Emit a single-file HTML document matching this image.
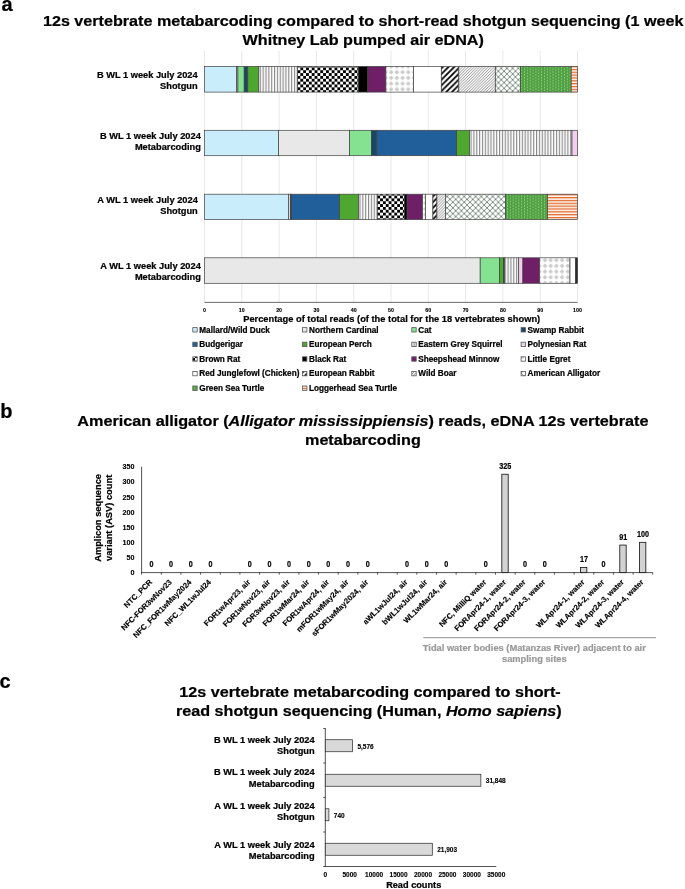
<!DOCTYPE html>
<html lang="en"><head><meta charset="utf-8"><title>Figure</title>
<style>html,body{margin:0;padding:0;background:#fff;}body{width:685px;height:889px;overflow:hidden;}svg{display:block;}text{font-family:"Liberation Sans", Arial, Helvetica, sans-serif;font-weight:bold;fill:#000;stroke:#000;stroke-width:0.22px;}</style>
</head><body>
<svg width="685" height="889" viewBox="0 0 685 889">
<rect x="0" y="0" width="685" height="889" fill="#fff"/>
<defs>
<pattern id="pVert" patternUnits="userSpaceOnUse" width="2.8480" height="2.8480" x="0.6"><rect width="2.8480" height="2.8480" fill="#fff"/><rect x="0" width="1.1500" height="2.8480" fill="#8a8a8a"/></pattern>
<pattern id="pCheck" patternUnits="userSpaceOnUse" width="5.6960" height="5.6960" x="1.3" y="1.9"><rect width="5.6960" height="5.6960" fill="#fff"/><rect width="2.8480" height="2.8480" fill="#000"/><rect x="2.8480" y="2.8480" width="2.8480" height="2.8480" fill="#000"/></pattern>
<pattern id="pDots" patternUnits="userSpaceOnUse" width="5.6960" height="5.6960" x="1" y="1"><rect width="5.6960" height="5.6960" fill="#fff"/><path d="M2.848 0.5 L5.196 2.848 L2.848 5.196 L0.5 2.848 Z" fill="#cbcbcb"/></pattern>
<pattern id="pBold" patternUnits="userSpaceOnUse" width="5.6960" height="5.6960"><rect width="5.6960" height="5.6960" fill="#fff"/><path d="M-1 3.848 L3.848 -1 M1.848 6.696 L6.696 1.848" stroke="#000" stroke-width="1.800"/></pattern>
<pattern id="pThin" patternUnits="userSpaceOnUse" width="2.8480" height="2.8480"><rect width="2.8480" height="2.8480" fill="#fff"/><path d="M-1 3.848 L3.848 -1 M1.848 3.848 L3.848 1.848" stroke="#6a6a6a" stroke-width="0.75"/></pattern>
<pattern id="pCross" patternUnits="userSpaceOnUse" width="5.6960" height="5.6960"><rect width="5.6960" height="5.6960" fill="#fff"/><path d="M0 0 L5.696 5.696 M5.696 0 L0 5.696" stroke="#42604a" stroke-width="0.7"/></pattern>
<pattern id="pTurtle" patternUnits="userSpaceOnUse" width="5.6960" height="2.8480"><rect width="5.6960" height="2.8480" fill="#4fa040"/><rect x="0" y="0" width="0.783" height="1.566" fill="#a4dc98"/><rect x="2.848" y="1.424" width="0.783" height="1.566" fill="#a4dc98"/></pattern>
<pattern id="pOrange" patternUnits="userSpaceOnUse" width="2.8480" height="2.8480" y="0.5"><rect width="2.8480" height="2.8480" fill="#fff8f3"/><rect width="2.8480" height="1.2816" fill="#e06a2c"/></pattern>
</defs>
<text x="1.50" y="11.40" font-size="20.00" text-anchor="start">a</text>
<text transform="translate(363.20 26.30) scale(1.0630 1)" font-size="15.20" text-anchor="middle">12s vertebrate metabarcoding compared to short-read shotgun sequencing (1 week</text>
<text transform="translate(363.20 44.70) scale(1.0630 1)" font-size="15.20" text-anchor="middle">Whitney Lab pumped air eDNA)</text>
<line x1="204.50" y1="50.90" x2="204.50" y2="302.40" stroke="#dedede" stroke-width="0.7"/>
<line x1="241.80" y1="50.90" x2="241.80" y2="302.40" stroke="#dedede" stroke-width="0.7"/>
<line x1="279.10" y1="50.90" x2="279.10" y2="302.40" stroke="#dedede" stroke-width="0.7"/>
<line x1="316.40" y1="50.90" x2="316.40" y2="302.40" stroke="#dedede" stroke-width="0.7"/>
<line x1="353.70" y1="50.90" x2="353.70" y2="302.40" stroke="#dedede" stroke-width="0.7"/>
<line x1="391.00" y1="50.90" x2="391.00" y2="302.40" stroke="#dedede" stroke-width="0.7"/>
<line x1="428.30" y1="50.90" x2="428.30" y2="302.40" stroke="#dedede" stroke-width="0.7"/>
<line x1="465.60" y1="50.90" x2="465.60" y2="302.40" stroke="#dedede" stroke-width="0.7"/>
<line x1="502.90" y1="50.90" x2="502.90" y2="302.40" stroke="#dedede" stroke-width="0.7"/>
<line x1="540.20" y1="50.90" x2="540.20" y2="302.40" stroke="#dedede" stroke-width="0.7"/>
<line x1="577.50" y1="50.90" x2="577.50" y2="302.40" stroke="#dedede" stroke-width="0.7"/>
<rect x="204.50" y="66.40" width="32.10" height="25.70" fill="#CAEDFB" stroke="#404040" stroke-width="0.7"/>
<rect x="236.60" y="66.40" width="1.30" height="25.70" fill="#E8E8E8" stroke="#404040" stroke-width="0.7"/>
<rect x="237.90" y="66.40" width="6.30" height="25.70" fill="#84E291" stroke="#404040" stroke-width="0.7"/>
<rect x="244.20" y="66.40" width="3.60" height="25.70" fill="#1A4669" stroke="#404040" stroke-width="0.7"/>
<rect x="247.80" y="66.40" width="11.00" height="25.70" fill="#4EA72E" stroke="#404040" stroke-width="0.7"/>
<rect x="258.80" y="66.40" width="38.50" height="25.70" fill="url(#pVert)" stroke="#404040" stroke-width="0.7"/>
<rect x="297.30" y="66.40" width="61.00" height="25.70" fill="url(#pCheck)" stroke="#404040" stroke-width="0.7"/>
<rect x="358.30" y="66.40" width="9.50" height="25.70" fill="#000" stroke="#404040" stroke-width="0.7"/>
<rect x="367.80" y="66.40" width="18.10" height="25.70" fill="#6E1F66" stroke="#404040" stroke-width="0.7"/>
<rect x="385.90" y="66.40" width="27.70" height="25.70" fill="url(#pDots)" stroke="#404040" stroke-width="0.7"/>
<rect x="413.60" y="66.40" width="27.70" height="25.70" fill="#fff" stroke="#404040" stroke-width="0.7"/>
<rect x="441.30" y="66.40" width="17.50" height="25.70" fill="url(#pBold)" stroke="#404040" stroke-width="0.7"/>
<rect x="458.80" y="66.40" width="36.50" height="25.70" fill="url(#pThin)" stroke="#404040" stroke-width="0.7"/>
<rect x="495.30" y="66.40" width="25.30" height="25.70" fill="url(#pCross)" stroke="#404040" stroke-width="0.7"/>
<rect x="520.60" y="66.40" width="50.60" height="25.70" fill="url(#pTurtle)" stroke="#404040" stroke-width="0.7"/>
<rect x="571.20" y="66.40" width="6.40" height="25.70" fill="url(#pOrange)" stroke="#404040" stroke-width="0.7"/>
<rect x="204.50" y="130.30" width="74.10" height="25.40" fill="#CAEDFB" stroke="#404040" stroke-width="0.7"/>
<rect x="278.60" y="130.30" width="71.00" height="25.40" fill="#E8E8E8" stroke="#404040" stroke-width="0.7"/>
<rect x="349.60" y="130.30" width="21.90" height="25.40" fill="#84E291" stroke="#404040" stroke-width="0.7"/>
<rect x="371.50" y="130.30" width="5.40" height="25.40" fill="#1A4669" stroke="#404040" stroke-width="0.7"/>
<rect x="376.90" y="130.30" width="79.70" height="25.40" fill="#215F9A" stroke="#404040" stroke-width="0.7"/>
<rect x="456.60" y="130.30" width="13.00" height="25.40" fill="#4EA72E" stroke="#404040" stroke-width="0.7"/>
<rect x="469.60" y="130.30" width="102.40" height="25.40" fill="url(#pVert)" stroke="#404040" stroke-width="0.7"/>
<rect x="572.00" y="130.30" width="5.60" height="25.40" fill="#F2CFEE" stroke="#404040" stroke-width="0.7"/>
<rect x="204.50" y="194.20" width="84.00" height="25.40" fill="#CAEDFB" stroke="#404040" stroke-width="0.7"/>
<rect x="288.50" y="194.20" width="1.80" height="25.40" fill="#E8E8E8" stroke="#404040" stroke-width="0.7"/>
<rect x="290.30" y="194.20" width="1.30" height="25.40" fill="#1A4669" stroke="#404040" stroke-width="0.7"/>
<rect x="291.60" y="194.20" width="47.90" height="25.40" fill="#215F9A" stroke="#404040" stroke-width="0.7"/>
<rect x="339.50" y="194.20" width="19.00" height="25.40" fill="#4EA72E" stroke="#404040" stroke-width="0.7"/>
<rect x="358.50" y="194.20" width="18.80" height="25.40" fill="url(#pVert)" stroke="#404040" stroke-width="0.7"/>
<rect x="377.30" y="194.20" width="27.10" height="25.40" fill="url(#pCheck)" stroke="#404040" stroke-width="0.7"/>
<rect x="404.40" y="194.20" width="2.70" height="25.40" fill="#000" stroke="#404040" stroke-width="0.7"/>
<rect x="407.10" y="194.20" width="15.50" height="25.40" fill="#6E1F66" stroke="#404040" stroke-width="0.7"/>
<rect x="422.60" y="194.20" width="2.90" height="25.40" fill="url(#pDots)" stroke="#404040" stroke-width="0.7"/>
<rect x="425.50" y="194.20" width="7.40" height="25.40" fill="#fff" stroke="#404040" stroke-width="0.7"/>
<rect x="432.90" y="194.20" width="4.00" height="25.40" fill="url(#pBold)" stroke="#404040" stroke-width="0.7"/>
<rect x="436.90" y="194.20" width="8.50" height="25.40" fill="url(#pThin)" stroke="#404040" stroke-width="0.7"/>
<rect x="445.40" y="194.20" width="60.30" height="25.40" fill="url(#pCross)" stroke="#404040" stroke-width="0.7"/>
<rect x="505.70" y="194.20" width="41.80" height="25.40" fill="url(#pTurtle)" stroke="#404040" stroke-width="0.7"/>
<rect x="547.50" y="194.20" width="30.10" height="25.40" fill="url(#pOrange)" stroke="#404040" stroke-width="0.7"/>
<rect x="204.50" y="257.80" width="275.70" height="25.50" fill="#E8E8E8" stroke="#404040" stroke-width="0.7"/>
<rect x="480.20" y="257.80" width="19.20" height="25.50" fill="#84E291" stroke="#404040" stroke-width="0.7"/>
<rect x="499.40" y="257.80" width="4.00" height="25.50" fill="#4EA72E" stroke="#404040" stroke-width="0.7"/>
<rect x="503.40" y="257.80" width="1.20" height="25.50" fill="#1A4669" stroke="#404040" stroke-width="0.7"/>
<rect x="504.60" y="257.80" width="14.10" height="25.50" fill="url(#pVert)" stroke="#404040" stroke-width="0.7"/>
<rect x="518.70" y="257.80" width="4.20" height="25.50" fill="#F2CFEE" stroke="#404040" stroke-width="0.7"/>
<rect x="522.90" y="257.80" width="16.80" height="25.50" fill="#6E1F66" stroke="#404040" stroke-width="0.7"/>
<rect x="539.70" y="257.80" width="30.30" height="25.50" fill="url(#pDots)" stroke="#404040" stroke-width="0.7"/>
<rect x="570.00" y="257.80" width="5.50" height="25.50" fill="#fff" stroke="#404040" stroke-width="0.7"/>
<rect x="575.50" y="257.80" width="2.10" height="25.50" fill="#2b2b2b" stroke="#404040" stroke-width="0.7"/>
<line x1="204.50" y1="302.40" x2="577.50" y2="302.40" stroke="#595959" stroke-width="0.9"/>
<text x="204.50" y="311.90" font-size="5.30" text-anchor="middle" style="stroke-width:0.12px">0</text>
<text x="241.80" y="311.90" font-size="5.30" text-anchor="middle" style="stroke-width:0.12px">10</text>
<text x="279.10" y="311.90" font-size="5.30" text-anchor="middle" style="stroke-width:0.12px">20</text>
<text x="316.40" y="311.90" font-size="5.30" text-anchor="middle" style="stroke-width:0.12px">30</text>
<text x="353.70" y="311.90" font-size="5.30" text-anchor="middle" style="stroke-width:0.12px">40</text>
<text x="391.00" y="311.90" font-size="5.30" text-anchor="middle" style="stroke-width:0.12px">50</text>
<text x="428.30" y="311.90" font-size="5.30" text-anchor="middle" style="stroke-width:0.12px">60</text>
<text x="465.60" y="311.90" font-size="5.30" text-anchor="middle" style="stroke-width:0.12px">70</text>
<text x="502.90" y="311.90" font-size="5.30" text-anchor="middle" style="stroke-width:0.12px">80</text>
<text x="540.20" y="311.90" font-size="5.30" text-anchor="middle" style="stroke-width:0.12px">90</text>
<text x="577.50" y="311.90" font-size="5.30" text-anchor="middle" style="stroke-width:0.12px">100</text>
<text x="391.70" y="322.20" font-size="9.32" text-anchor="middle">Percentage of total reads (of the total for the 18 vertebrates shown)</text>
<text x="197.70" y="78.30" font-size="9.28" text-anchor="end">B WL 1 week July 2024</text>
<text x="197.70" y="89.00" font-size="9.28" text-anchor="end">Shotgun</text>
<text x="200.80" y="139.40" font-size="9.28" text-anchor="end">B WL 1 week July 2024</text>
<text x="200.80" y="150.20" font-size="9.28" text-anchor="end">Metabarcoding</text>
<text x="197.80" y="203.20" font-size="9.28" text-anchor="end">A WL 1 week July 2024</text>
<text x="197.80" y="214.30" font-size="9.28" text-anchor="end">Shotgun</text>
<text x="200.80" y="269.10" font-size="9.28" text-anchor="end">A WL 1 week July 2024</text>
<text x="200.80" y="279.80" font-size="9.28" text-anchor="end">Metabarcoding</text>
<rect x="192.80" y="327.60" width="4.4" height="4.4" fill="#CAEDFB" stroke="#595959" stroke-width="0.8"/>
<text x="199.30" y="332.60" font-size="8.20" text-anchor="start">Mallard/Wild Duck</text>
<rect x="302.50" y="327.60" width="4.4" height="4.4" fill="#E8E8E8" stroke="#595959" stroke-width="0.8"/>
<text x="309.00" y="332.60" font-size="8.20" text-anchor="start">Northern Cardinal</text>
<rect x="411.80" y="327.60" width="4.4" height="4.4" fill="#84E291" stroke="#595959" stroke-width="0.8"/>
<text x="418.30" y="332.60" font-size="8.20" text-anchor="start">Cat</text>
<rect x="521.10" y="327.60" width="4.4" height="4.4" fill="#1A4669" stroke="#595959" stroke-width="0.8"/>
<text x="527.60" y="332.60" font-size="8.20" text-anchor="start">Swamp Rabbit</text>
<rect x="192.80" y="342.20" width="4.4" height="4.4" fill="#215F9A" stroke="#595959" stroke-width="0.8"/>
<text x="199.30" y="347.20" font-size="8.20" text-anchor="start">Budgerigar</text>
<rect x="302.50" y="342.20" width="4.4" height="4.4" fill="#4EA72E" stroke="#595959" stroke-width="0.8"/>
<text x="309.00" y="347.20" font-size="8.20" text-anchor="start">European Perch</text>
<rect x="411.80" y="342.20" width="4.4" height="4.4" fill="url(#pVert)" stroke="#595959" stroke-width="0.8"/>
<text x="418.30" y="347.20" font-size="8.20" text-anchor="start">Eastern Grey Squirrel</text>
<rect x="521.10" y="342.20" width="4.4" height="4.4" fill="#F2CFEE" stroke="#595959" stroke-width="0.8"/>
<text x="527.60" y="347.20" font-size="8.20" text-anchor="start">Polynesian Rat</text>
<rect x="192.80" y="356.80" width="4.4" height="4.4" fill="url(#pCheck)" stroke="#595959" stroke-width="0.8"/>
<text x="199.30" y="361.80" font-size="8.20" text-anchor="start">Brown Rat</text>
<rect x="302.50" y="356.80" width="4.4" height="4.4" fill="#000" stroke="#595959" stroke-width="0.8"/>
<text x="309.00" y="361.80" font-size="8.20" text-anchor="start">Black Rat</text>
<rect x="411.80" y="356.80" width="4.4" height="4.4" fill="#6E1F66" stroke="#595959" stroke-width="0.8"/>
<text x="418.30" y="361.80" font-size="8.20" text-anchor="start">Sheepshead Minnow</text>
<rect x="521.10" y="356.80" width="4.4" height="4.4" fill="url(#pDots)" stroke="#595959" stroke-width="0.8"/>
<text x="527.60" y="361.80" font-size="8.20" text-anchor="start">Little Egret</text>
<rect x="192.80" y="371.40" width="4.4" height="4.4" fill="#fff" stroke="#595959" stroke-width="0.8"/>
<text x="199.30" y="376.40" font-size="8.20" text-anchor="start">Red Junglefowl (Chicken)</text>
<rect x="302.50" y="371.40" width="4.4" height="4.4" fill="url(#pBold)" stroke="#595959" stroke-width="0.8"/>
<text x="309.00" y="376.40" font-size="8.20" text-anchor="start">European Rabbit</text>
<rect x="411.80" y="371.40" width="4.4" height="4.4" fill="url(#pThin)" stroke="#595959" stroke-width="0.8"/>
<text x="418.30" y="376.40" font-size="8.20" text-anchor="start">Wild Boar</text>
<rect x="521.10" y="371.40" width="4.4" height="4.4" fill="url(#pCross)" stroke="#595959" stroke-width="0.8"/>
<text x="527.60" y="376.40" font-size="8.20" text-anchor="start">American Alligator</text>
<rect x="192.80" y="386.00" width="4.4" height="4.4" fill="url(#pTurtle)" stroke="#595959" stroke-width="0.8"/>
<text x="199.30" y="391.00" font-size="8.20" text-anchor="start">Green Sea Turtle</text>
<rect x="302.50" y="386.00" width="4.4" height="4.4" fill="url(#pOrange)" stroke="#595959" stroke-width="0.8"/>
<text x="309.00" y="391.00" font-size="8.20" text-anchor="start">Loggerhead Sea Turtle</text>
<text x="0.20" y="418.40" font-size="20.00" text-anchor="start">b</text>
<text transform="translate(362.90 426.00) scale(1.0662 1)" font-size="15.20" text-anchor="middle">American alligator (<tspan font-style="italic">Alligator mississippiensis</tspan>) reads, eDNA 12s vertebrate</text>
<text transform="translate(362.90 444.60) scale(1.0630 1)" font-size="15.20" text-anchor="middle">metabarcoding</text>
<line x1="141.60" y1="466.70" x2="141.60" y2="573.00" stroke="#262626" stroke-width="0.8"/>
<line x1="141.20" y1="572.60" x2="652.76" y2="572.60" stroke="#262626" stroke-width="0.8"/>
<line x1="141.60" y1="572.60" x2="141.60" y2="574.60" stroke="#262626" stroke-width="0.8"/>
<line x1="161.26" y1="572.60" x2="161.26" y2="574.60" stroke="#262626" stroke-width="0.8"/>
<line x1="180.92" y1="572.60" x2="180.92" y2="574.60" stroke="#262626" stroke-width="0.8"/>
<line x1="200.58" y1="572.60" x2="200.58" y2="574.60" stroke="#262626" stroke-width="0.8"/>
<line x1="220.24" y1="572.60" x2="220.24" y2="574.60" stroke="#262626" stroke-width="0.8"/>
<line x1="239.90" y1="572.60" x2="239.90" y2="574.60" stroke="#262626" stroke-width="0.8"/>
<line x1="259.56" y1="572.60" x2="259.56" y2="574.60" stroke="#262626" stroke-width="0.8"/>
<line x1="279.22" y1="572.60" x2="279.22" y2="574.60" stroke="#262626" stroke-width="0.8"/>
<line x1="298.88" y1="572.60" x2="298.88" y2="574.60" stroke="#262626" stroke-width="0.8"/>
<line x1="318.54" y1="572.60" x2="318.54" y2="574.60" stroke="#262626" stroke-width="0.8"/>
<line x1="338.20" y1="572.60" x2="338.20" y2="574.60" stroke="#262626" stroke-width="0.8"/>
<line x1="357.86" y1="572.60" x2="357.86" y2="574.60" stroke="#262626" stroke-width="0.8"/>
<line x1="377.52" y1="572.60" x2="377.52" y2="574.60" stroke="#262626" stroke-width="0.8"/>
<line x1="397.18" y1="572.60" x2="397.18" y2="574.60" stroke="#262626" stroke-width="0.8"/>
<line x1="416.84" y1="572.60" x2="416.84" y2="574.60" stroke="#262626" stroke-width="0.8"/>
<line x1="436.50" y1="572.60" x2="436.50" y2="574.60" stroke="#262626" stroke-width="0.8"/>
<line x1="456.16" y1="572.60" x2="456.16" y2="574.60" stroke="#262626" stroke-width="0.8"/>
<line x1="475.82" y1="572.60" x2="475.82" y2="574.60" stroke="#262626" stroke-width="0.8"/>
<line x1="495.48" y1="572.60" x2="495.48" y2="574.60" stroke="#262626" stroke-width="0.8"/>
<line x1="515.14" y1="572.60" x2="515.14" y2="574.60" stroke="#262626" stroke-width="0.8"/>
<line x1="534.80" y1="572.60" x2="534.80" y2="574.60" stroke="#262626" stroke-width="0.8"/>
<line x1="554.46" y1="572.60" x2="554.46" y2="574.60" stroke="#262626" stroke-width="0.8"/>
<line x1="574.12" y1="572.60" x2="574.12" y2="574.60" stroke="#262626" stroke-width="0.8"/>
<line x1="593.78" y1="572.60" x2="593.78" y2="574.60" stroke="#262626" stroke-width="0.8"/>
<line x1="613.44" y1="572.60" x2="613.44" y2="574.60" stroke="#262626" stroke-width="0.8"/>
<line x1="633.10" y1="572.60" x2="633.10" y2="574.60" stroke="#262626" stroke-width="0.8"/>
<line x1="652.76" y1="572.60" x2="652.76" y2="574.60" stroke="#262626" stroke-width="0.8"/>
<text x="134.60" y="575.20" font-size="7.20" text-anchor="end" style="stroke-width:0.12px">0</text>
<text x="134.60" y="560.07" font-size="7.20" text-anchor="end" style="stroke-width:0.12px">50</text>
<text x="134.60" y="544.94" font-size="7.20" text-anchor="end" style="stroke-width:0.12px">100</text>
<text x="134.60" y="529.81" font-size="7.20" text-anchor="end" style="stroke-width:0.12px">150</text>
<text x="134.60" y="514.69" font-size="7.20" text-anchor="end" style="stroke-width:0.12px">200</text>
<text x="134.60" y="499.56" font-size="7.20" text-anchor="end" style="stroke-width:0.12px">250</text>
<text x="134.60" y="484.43" font-size="7.20" text-anchor="end" style="stroke-width:0.12px">300</text>
<text x="134.60" y="469.30" font-size="7.20" text-anchor="end" style="stroke-width:0.12px">350</text>
<g transform="translate(100.8 517.9) rotate(-90)">
<text x="0.00" y="0.00" font-size="9.30" text-anchor="middle">Amplicon sequence</text>
<text x="0.00" y="11.00" font-size="9.30" text-anchor="middle">variant (ASV) count</text>
</g>
<text transform="translate(151.43 567.10) scale(0.88 1)" font-size="8.2" text-anchor="middle" style="stroke-width:0.2px">0</text>
<text transform="translate(152.63 582.60) rotate(-45)" font-size="7.7" text-anchor="end" style="stroke-width:0.14px">NTC_PCR</text>
<text transform="translate(171.09 567.10) scale(0.88 1)" font-size="8.2" text-anchor="middle" style="stroke-width:0.2px">0</text>
<text transform="translate(172.29 582.60) rotate(-45)" font-size="7.7" text-anchor="end" style="stroke-width:0.14px">NFC-FOR3wNov23</text>
<text transform="translate(190.75 567.10) scale(0.88 1)" font-size="8.2" text-anchor="middle" style="stroke-width:0.2px">0</text>
<text transform="translate(191.95 582.60) rotate(-45)" font-size="7.7" text-anchor="end" style="stroke-width:0.14px">NFC_FOR1wMay2024</text>
<text transform="translate(210.41 567.10) scale(0.88 1)" font-size="8.2" text-anchor="middle" style="stroke-width:0.2px">0</text>
<text transform="translate(211.61 582.60) rotate(-45)" font-size="7.7" text-anchor="end" style="stroke-width:0.14px">NFC_WL1wJul24</text>
<text transform="translate(249.73 567.10) scale(0.88 1)" font-size="8.2" text-anchor="middle" style="stroke-width:0.2px">0</text>
<text transform="translate(250.93 582.60) rotate(-45)" font-size="7.7" text-anchor="end" style="stroke-width:0.14px">FOR1wApr23, air</text>
<text transform="translate(269.39 567.10) scale(0.88 1)" font-size="8.2" text-anchor="middle" style="stroke-width:0.2px">0</text>
<text transform="translate(270.59 582.60) rotate(-45)" font-size="7.7" text-anchor="end" style="stroke-width:0.14px">FOR1wNov23, air</text>
<text transform="translate(289.05 567.10) scale(0.88 1)" font-size="8.2" text-anchor="middle" style="stroke-width:0.2px">0</text>
<text transform="translate(290.25 582.60) rotate(-45)" font-size="7.7" text-anchor="end" style="stroke-width:0.14px">FOR3wNov23, air</text>
<text transform="translate(308.71 567.10) scale(0.88 1)" font-size="8.2" text-anchor="middle" style="stroke-width:0.2px">0</text>
<text transform="translate(309.91 582.60) rotate(-45)" font-size="7.7" text-anchor="end" style="stroke-width:0.14px">FOR1wMar24, air</text>
<text transform="translate(328.37 567.10) scale(0.88 1)" font-size="8.2" text-anchor="middle" style="stroke-width:0.2px">0</text>
<text transform="translate(329.57 582.60) rotate(-45)" font-size="7.7" text-anchor="end" style="stroke-width:0.14px">FOR1wApr24, air</text>
<text transform="translate(348.03 567.10) scale(0.88 1)" font-size="8.2" text-anchor="middle" style="stroke-width:0.2px">0</text>
<text transform="translate(349.23 582.60) rotate(-45)" font-size="7.7" text-anchor="end" style="stroke-width:0.14px">mFOR1wMay24, air</text>
<text transform="translate(367.69 567.10) scale(0.88 1)" font-size="8.2" text-anchor="middle" style="stroke-width:0.2px">0</text>
<text transform="translate(368.89 582.60) rotate(-45)" font-size="7.7" text-anchor="end" style="stroke-width:0.14px">sFOR1wMay2024, air</text>
<text transform="translate(407.01 567.10) scale(0.88 1)" font-size="8.2" text-anchor="middle" style="stroke-width:0.2px">0</text>
<text transform="translate(408.21 582.60) rotate(-45)" font-size="7.7" text-anchor="end" style="stroke-width:0.14px">aWL1wJul24, air</text>
<text transform="translate(426.67 567.10) scale(0.88 1)" font-size="8.2" text-anchor="middle" style="stroke-width:0.2px">0</text>
<text transform="translate(427.87 582.60) rotate(-45)" font-size="7.7" text-anchor="end" style="stroke-width:0.14px">bWL1wJul24, air</text>
<text transform="translate(446.33 567.10) scale(0.88 1)" font-size="8.2" text-anchor="middle" style="stroke-width:0.2px">0</text>
<text transform="translate(447.53 582.60) rotate(-45)" font-size="7.7" text-anchor="end" style="stroke-width:0.14px">WL1wMar24, air</text>
<text transform="translate(485.65 567.10) scale(0.88 1)" font-size="8.2" text-anchor="middle" style="stroke-width:0.2px">0</text>
<text transform="translate(486.85 582.60) rotate(-45)" font-size="7.7" text-anchor="end" style="stroke-width:0.14px">NFC, MilliQ water</text>
<rect x="501.81" y="474.26" width="6.4" height="98.34" fill="#d3d3d3" stroke="#1a1a1a" stroke-width="0.85"/>
<text transform="translate(505.31 468.76) scale(0.88 1)" font-size="8.2" text-anchor="middle" style="stroke-width:0.2px">325</text>
<text transform="translate(506.51 582.60) rotate(-45)" font-size="7.7" text-anchor="end" style="stroke-width:0.14px">FORApr24-1, water</text>
<text transform="translate(524.97 567.10) scale(0.88 1)" font-size="8.2" text-anchor="middle" style="stroke-width:0.2px">0</text>
<text transform="translate(526.17 582.60) rotate(-45)" font-size="7.7" text-anchor="end" style="stroke-width:0.14px">FORApr24-2, water</text>
<text transform="translate(544.63 567.10) scale(0.88 1)" font-size="8.2" text-anchor="middle" style="stroke-width:0.2px">0</text>
<text transform="translate(545.83 582.60) rotate(-45)" font-size="7.7" text-anchor="end" style="stroke-width:0.14px">FORApr24-3, water</text>
<rect x="580.45" y="567.46" width="6.4" height="5.14" fill="#d3d3d3" stroke="#1a1a1a" stroke-width="0.85"/>
<text transform="translate(583.95 561.96) scale(0.88 1)" font-size="8.2" text-anchor="middle" style="stroke-width:0.2px">17</text>
<text transform="translate(585.15 582.60) rotate(-45)" font-size="7.7" text-anchor="end" style="stroke-width:0.14px">WLApr24-1, water</text>
<text transform="translate(603.61 567.10) scale(0.88 1)" font-size="8.2" text-anchor="middle" style="stroke-width:0.2px">0</text>
<text transform="translate(604.81 582.60) rotate(-45)" font-size="7.7" text-anchor="end" style="stroke-width:0.14px">WLApr24-2, water</text>
<rect x="619.77" y="545.07" width="6.4" height="27.53" fill="#d3d3d3" stroke="#1a1a1a" stroke-width="0.85"/>
<text transform="translate(623.27 539.57) scale(0.88 1)" font-size="8.2" text-anchor="middle" style="stroke-width:0.2px">91</text>
<text transform="translate(624.47 582.60) rotate(-45)" font-size="7.7" text-anchor="end" style="stroke-width:0.14px">WLApr24-3, water</text>
<rect x="639.43" y="542.34" width="6.4" height="30.26" fill="#d3d3d3" stroke="#1a1a1a" stroke-width="0.85"/>
<text transform="translate(642.93 536.84) scale(0.88 1)" font-size="8.2" text-anchor="middle" style="stroke-width:0.2px">100</text>
<text transform="translate(644.13 582.60) rotate(-45)" font-size="7.7" text-anchor="end" style="stroke-width:0.14px">WLApr24-4, water</text>
<line x1="423.3" y1="637.6" x2="655.9" y2="637.6" stroke="#a6a6a6" stroke-width="1.1"/>
<text x="534.30" y="651.00" font-size="9.30" text-anchor="middle" style="fill:#9a9a9a;stroke:#9a9a9a">Tidal water bodies (Matanzas River) adjacent to air</text>
<text x="534.30" y="662.20" font-size="9.30" text-anchor="middle" style="fill:#9a9a9a;stroke:#9a9a9a">sampling sites</text>
<text x="-0.50" y="688.20" font-size="20.00" text-anchor="start">c</text>
<text transform="translate(370.00 696.90) scale(1.0630 1)" font-size="15.20" text-anchor="middle">12s vertebrate metabarcoding compared to short-</text>
<text transform="translate(368.80 715.90) scale(1.0630 1)" font-size="15.20" text-anchor="middle">read shotgun sequencing (Human, <tspan font-style="italic">Homo sapiens</tspan>)</text>
<line x1="325.30" y1="728.10" x2="325.30" y2="866.90" stroke="#262626" stroke-width="0.8"/>
<line x1="324.90" y1="866.50" x2="496.27" y2="866.50" stroke="#262626" stroke-width="0.8"/>
<line x1="323.30" y1="728.50" x2="325.30" y2="728.50" stroke="#262626" stroke-width="0.8"/>
<line x1="323.30" y1="763.00" x2="325.30" y2="763.00" stroke="#262626" stroke-width="0.8"/>
<line x1="323.30" y1="797.50" x2="325.30" y2="797.50" stroke="#262626" stroke-width="0.8"/>
<line x1="323.30" y1="832.00" x2="325.30" y2="832.00" stroke="#262626" stroke-width="0.8"/>
<line x1="323.30" y1="866.50" x2="325.30" y2="866.50" stroke="#262626" stroke-width="0.8"/>
<rect x="325.30" y="739.75" width="27.24" height="12.0" fill="#d9d9d9" stroke="#262626" stroke-width="0.7"/>
<text x="357.44" y="748.65" font-size="6.50" text-anchor="start" style="stroke-width:0.12px">5,576</text>
<text x="314.70" y="742.60" font-size="9.28" text-anchor="end">B WL 1 week July 2024</text>
<text x="314.70" y="754.00" font-size="9.28" text-anchor="end">Shotgun</text>
<rect x="325.30" y="774.25" width="155.58" height="12.0" fill="#d9d9d9" stroke="#262626" stroke-width="0.7"/>
<text x="485.78" y="783.15" font-size="6.50" text-anchor="start" style="stroke-width:0.12px">31,848</text>
<text x="314.70" y="775.30" font-size="9.28" text-anchor="end">B WL 1 week July 2024</text>
<text x="314.70" y="786.70" font-size="9.28" text-anchor="end">Metabarcoding</text>
<rect x="325.30" y="808.75" width="3.61" height="12.0" fill="#d9d9d9" stroke="#262626" stroke-width="0.7"/>
<text x="333.81" y="817.65" font-size="6.50" text-anchor="start" style="stroke-width:0.12px">740</text>
<text x="314.70" y="808.70" font-size="9.28" text-anchor="end">A WL 1 week July 2024</text>
<text x="314.70" y="819.90" font-size="9.28" text-anchor="end">Shotgun</text>
<rect x="325.30" y="843.25" width="107.00" height="12.0" fill="#d9d9d9" stroke="#262626" stroke-width="0.7"/>
<text x="437.20" y="852.15" font-size="6.50" text-anchor="start" style="stroke-width:0.12px">21,903</text>
<text x="314.70" y="847.90" font-size="9.28" text-anchor="end">A WL 1 week July 2024</text>
<text x="314.70" y="858.90" font-size="9.28" text-anchor="end">Metabarcoding</text>
<text x="325.30" y="877.40" font-size="6.50" text-anchor="middle" style="stroke-width:0.12px">0</text>
<text x="349.73" y="877.40" font-size="6.50" text-anchor="middle" style="stroke-width:0.12px">5000</text>
<text x="374.15" y="877.40" font-size="6.50" text-anchor="middle" style="stroke-width:0.12px">10000</text>
<text x="398.57" y="877.40" font-size="6.50" text-anchor="middle" style="stroke-width:0.12px">15000</text>
<text x="423.00" y="877.40" font-size="6.50" text-anchor="middle" style="stroke-width:0.12px">20000</text>
<text x="447.43" y="877.40" font-size="6.50" text-anchor="middle" style="stroke-width:0.12px">25000</text>
<text x="471.85" y="877.40" font-size="6.50" text-anchor="middle" style="stroke-width:0.12px">30000</text>
<text x="496.27" y="877.40" font-size="6.50" text-anchor="middle" style="stroke-width:0.12px">35000</text>
<text x="413.70" y="888.20" font-size="9.20" text-anchor="middle">Read counts</text>
</svg>
</body></html>
